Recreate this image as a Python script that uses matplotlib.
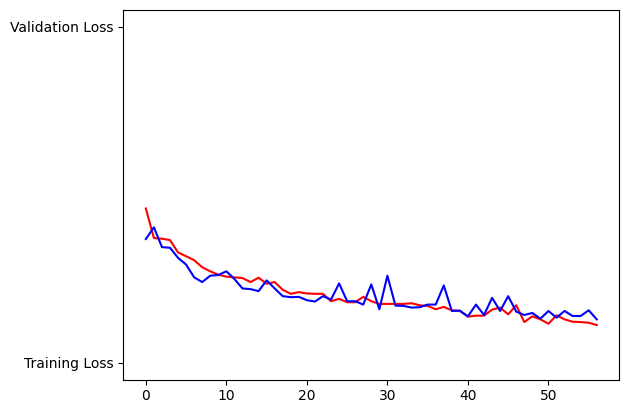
import matplotlib
matplotlib.use("Agg")
import matplotlib.pyplot as plt

train_loss = [0.459, 0.371, 0.369, 0.365, 0.328, 0.317, 0.305, 0.284, 0.272, 0.262,
              0.256, 0.254, 0.252, 0.240, 0.253, 0.235, 0.240, 0.217, 0.205, 0.210,
              0.206, 0.205, 0.205, 0.183, 0.190, 0.180, 0.180, 0.196, 0.183, 0.175,
              0.175, 0.175, 0.175, 0.177, 0.171, 0.169, 0.159, 0.166, 0.156, 0.154,
              0.137, 0.140, 0.140, 0.158, 0.164, 0.144, 0.171, 0.121, 0.138, 0.129,
              0.116, 0.141, 0.129, 0.122, 0.121, 0.119, 0.112]
val_loss = [0.368, 0.403, 0.344, 0.342, 0.312, 0.292, 0.254, 0.240, 0.259, 0.261,
            0.272, 0.249, 0.221, 0.219, 0.213, 0.245, 0.221, 0.198, 0.195, 0.196,
            0.186, 0.182, 0.198, 0.188, 0.236, 0.183, 0.183, 0.173, 0.233, 0.159,
            0.259, 0.170, 0.169, 0.164, 0.165, 0.173, 0.173, 0.230, 0.154, 0.155,
            0.138, 0.173, 0.142, 0.193, 0.154, 0.198, 0.152, 0.142, 0.148, 0.131,
            0.154, 0.134, 0.154, 0.139, 0.139, 0.156, 0.129]
tick_labels = ["Training Loss", "Validation Loss"]

fig = plt.figure(figsize=(6.29, 4.13), dpi=100)
ax = fig.add_axes([123.3/629, (413 - 379.5)/413, 496/629, 369.6/413])
ax.plot(range(len(train_loss)), train_loss, color="red")
ax.plot(range(len(val_loss)), val_loss, color="blue")
ax.set_ylim(-0.05, 1.05)
ax.set_yticks([0, 1])
ax.set_yticklabels(tick_labels)
fig.savefig("out.png", dpi=100)
